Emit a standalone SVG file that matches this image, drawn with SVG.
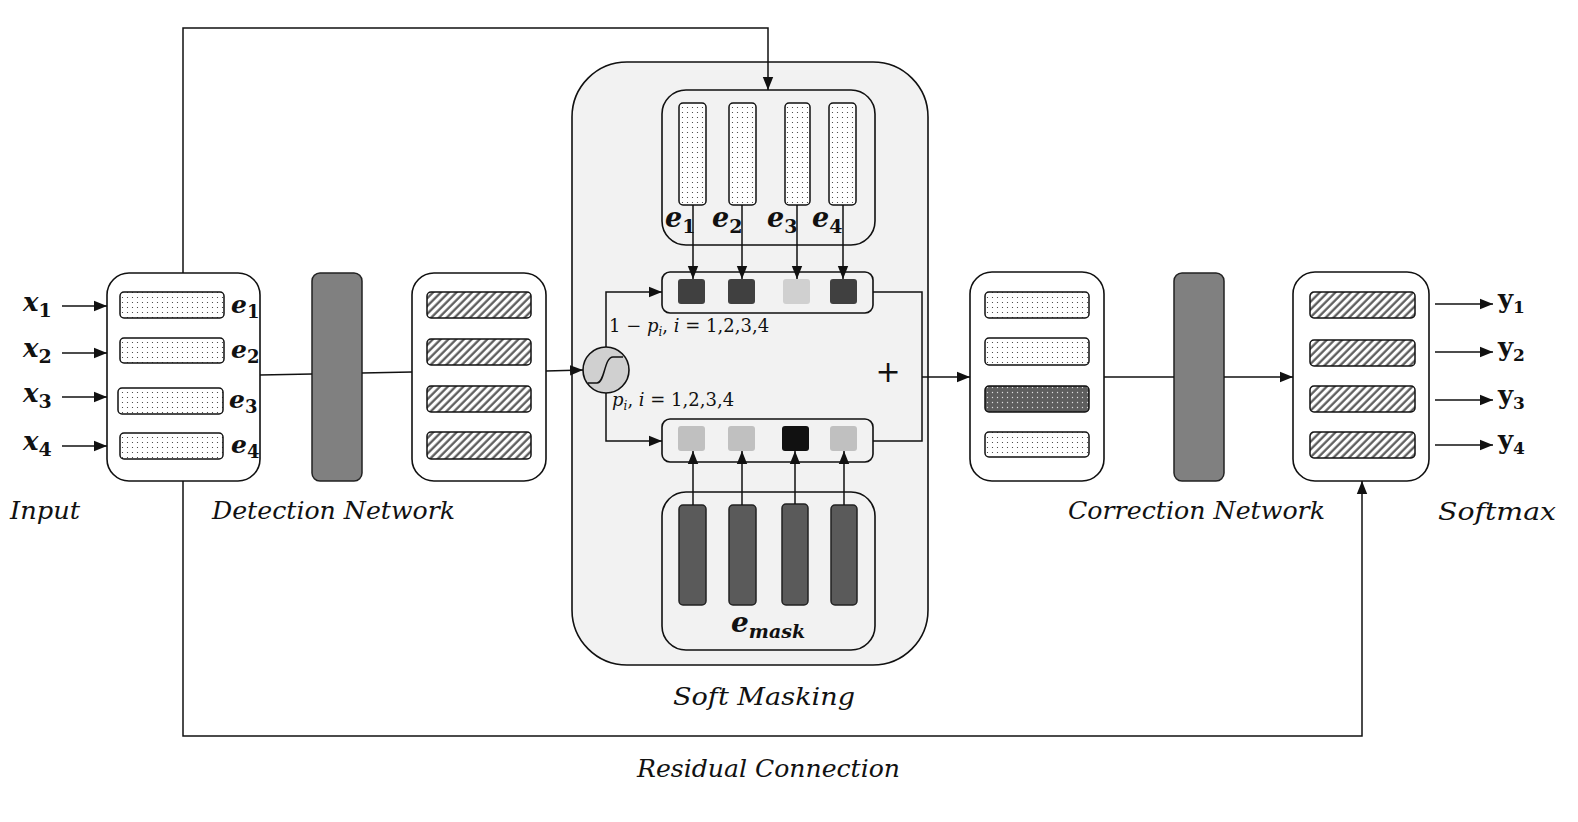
<svg xmlns="http://www.w3.org/2000/svg" width="1578" height="822" viewBox="0 0 1578 822">
<style>
.box{fill:#fff;stroke:#111;stroke-width:1.6}
.gbox{fill:#f2f2f2;stroke:#111;stroke-width:1.6}
.dot{fill:url(#dots);stroke:#111;stroke-width:1.5}
.ddot{fill:url(#ddots);stroke:#111;stroke-width:1.5}
.hat{fill:url(#hatch);stroke:#111;stroke-width:1.5}
.dbar{fill:#808080;stroke:#222;stroke-width:1.5}
.mbar{fill:#5a5a5a;stroke:#222;stroke-width:1.5}
.ln{fill:none;stroke:#111;stroke-width:1.5}
.ar{fill:none;stroke:#111;stroke-width:1.5;marker-end:url(#arr)}
.m{font-family:"DejaVu Serif",serif;font-style:italic;font-weight:bold;fill:#111}
.sub{font-style:normal}
.y{font-family:"DejaVu Serif",serif;font-weight:bold;fill:#111}
.lab{font-family:"DejaVu Serif",serif;font-style:italic;font-size:25px;fill:#111}
.f{font-family:"DejaVu Serif",serif;font-size:18px;fill:#111}
</style>
<defs>
<pattern id="dots" width="5" height="5" patternUnits="userSpaceOnUse"><rect width="5" height="5" fill="#fff"/><circle cx="2.5" cy="2.5" r="0.6" fill="#333"/></pattern>
<pattern id="ddots" width="5" height="5" patternUnits="userSpaceOnUse"><rect width="5" height="5" fill="#5e5e5e"/><circle cx="2.5" cy="2.5" r="0.7" fill="#ddd"/></pattern>
<pattern id="hatch" width="5.5" height="5.5" patternUnits="userSpaceOnUse" patternTransform="rotate(45)"><rect width="5.5" height="5.5" fill="#fff"/><line x1="1.5" y1="0" x2="1.5" y2="5.5" stroke="#555" stroke-width="2.2"/></pattern>
<marker id="arr" viewBox="0 0 10 10" refX="10" refY="5" markerWidth="13" markerHeight="13" markerUnits="userSpaceOnUse" orient="auto"><path d="M0,1 L10,5 L0,9 z" fill="#111"/></marker>
</defs>
<rect width="1578" height="822" fill="#fff"/>

<g id="input">
<rect class="box" x="107" y="273" width="153" height="208" rx="22"/>
<rect class="dot" x="120" y="292" width="104" height="26" rx="4"/>
<rect class="dot" x="120" y="338" width="104" height="25" rx="4"/>
<rect class="dot" x="118" y="388" width="105" height="26" rx="4"/>
<rect class="dot" x="120" y="433" width="103" height="26" rx="4"/>
<text class="m" x="231" y="313" font-size="25">e<tspan class="sub" font-size="18" dy="5">1</tspan></text>
<text class="m" x="231" y="358" font-size="25">e<tspan class="sub" font-size="18" dy="5">2</tspan></text>
<text class="m" x="229" y="408" font-size="25">e<tspan class="sub" font-size="18" dy="5">3</tspan></text>
<text class="m" x="231" y="453" font-size="25">e<tspan class="sub" font-size="18" dy="5">4</tspan></text>
<text class="m" x="23" y="311" font-size="26">x<tspan class="sub" font-size="19" dy="6">1</tspan></text>
<text class="m" x="23" y="357" font-size="26">x<tspan class="sub" font-size="19" dy="6">2</tspan></text>
<text class="m" x="23" y="402" font-size="26">x<tspan class="sub" font-size="19" dy="6">3</tspan></text>
<text class="m" x="23" y="450" font-size="26">x<tspan class="sub" font-size="19" dy="6">4</tspan></text>
<text class="lab" x="10" y="519" textLength="70" lengthAdjust="spacingAndGlyphs">Input</text>
</g>

<g id="detection">
<rect class="dbar" x="312" y="273" width="50" height="208" rx="8"/>
<rect class="box" x="412" y="273" width="134" height="208" rx="22"/>
<rect class="hat" x="427" y="292" width="104" height="26" rx="4"/>
<rect class="hat" x="427" y="339" width="104" height="26" rx="4"/>
<rect class="hat" x="427" y="386" width="104" height="26" rx="4"/>
<rect class="hat" x="427" y="432" width="104" height="27" rx="4"/>
<text class="lab" x="212" y="519" textLength="243" lengthAdjust="spacingAndGlyphs">Detection Network</text>
</g>

<g id="softmasking">
<rect class="gbox" x="572" y="62" width="356" height="603" rx="55"/>
<rect class="gbox" x="662" y="90" width="213" height="155" rx="24"/>
<rect class="dot" x="679" y="103" width="27" height="102" rx="4"/>
<rect class="dot" x="729" y="103" width="27" height="102" rx="4"/>
<rect class="dot" x="785" y="103" width="25" height="102" rx="4"/>
<rect class="dot" x="829" y="103" width="27" height="102" rx="4"/>
<text class="m" x="665" y="227" font-size="27">e<tspan class="sub" font-size="19" dy="6">1</tspan></text>
<text class="m" x="712" y="227" font-size="27">e<tspan class="sub" font-size="19" dy="6">2</tspan></text>
<text class="m" x="767" y="227" font-size="27">e<tspan class="sub" font-size="19" dy="6">3</tspan></text>
<text class="m" x="812" y="227" font-size="27">e<tspan class="sub" font-size="19" dy="6">4</tspan></text>
<rect class="gbox" x="662" y="272" width="211" height="41" rx="8"/>
<rect x="678" y="279" width="27" height="25" rx="3" fill="#404040"/>
<rect x="728" y="279" width="27" height="25" rx="3" fill="#404040"/>
<rect x="783" y="279" width="27" height="25" rx="3" fill="#d0d0d0"/>
<rect x="830" y="279" width="27" height="25" rx="3" fill="#404040"/>
<rect class="gbox" x="662" y="419" width="211" height="43" rx="8"/>
<rect x="678" y="426" width="27" height="25" rx="3" fill="#c0c0c0"/>
<rect x="728" y="426" width="27" height="25" rx="3" fill="#c0c0c0"/>
<rect x="782" y="426" width="27" height="25" rx="3" fill="#111"/>
<rect x="830" y="426" width="27" height="25" rx="3" fill="#c0c0c0"/>
<rect class="gbox" x="662" y="492" width="213" height="158" rx="24"/>
<rect class="mbar" x="679" y="505" width="27" height="100" rx="4"/>
<rect class="mbar" x="729" y="505" width="27" height="100" rx="4"/>
<rect class="mbar" x="782" y="504" width="26" height="101" rx="4"/>
<rect class="mbar" x="831" y="505" width="26" height="100" rx="4"/>
<text class="m" x="731" y="632" font-size="28">e<tspan font-size="19" dy="6">mask</tspan></text>
<circle cx="606" cy="370" r="23" fill="#d0d0d0" stroke="#111" stroke-width="1.6"/>
<path class="ln" d="M588,383 L597,383 C605,383 604,357 613,357 L623,357"/>
<text class="f" x="609" y="332">1 − <tspan font-style="italic">p</tspan><tspan font-style="italic" font-size="12" dy="4">i</tspan><tspan dy="-4">, </tspan><tspan font-style="italic">i</tspan> = 1,2,3,4</text>
<text class="f" x="612" y="406"><tspan font-style="italic">p</tspan><tspan font-style="italic" font-size="12" dy="4">i</tspan><tspan dy="-4">, </tspan><tspan font-style="italic">i</tspan> = 1,2,3,4</text>
<text x="888" y="382" font-family="DejaVu Sans,sans-serif" font-size="30" text-anchor="middle" fill="#111">+</text>
<text class="lab" x="673" y="705" textLength="182" lengthAdjust="spacingAndGlyphs">Soft Masking</text>
</g>

<g id="correction">
<rect class="box" x="970" y="272" width="134" height="209" rx="22"/>
<rect class="dot" x="985" y="292" width="104" height="26" rx="4"/>
<rect class="dot" x="985" y="338" width="104" height="27" rx="4"/>
<rect class="ddot" x="985" y="386" width="104" height="26" rx="4"/>
<rect class="dot" x="985" y="432" width="104" height="25" rx="4"/>
<rect class="dbar" x="1174" y="273" width="50" height="208" rx="8"/>
<text class="lab" x="1068" y="519" textLength="257" lengthAdjust="spacingAndGlyphs">Correction Network</text>
</g>

<g id="softmax">
<rect class="box" x="1293" y="272" width="136" height="209" rx="22"/>
<rect class="hat" x="1310" y="292" width="105" height="26" rx="4"/>
<rect class="hat" x="1310" y="340" width="105" height="26" rx="4"/>
<rect class="hat" x="1310" y="386" width="105" height="26" rx="4"/>
<rect class="hat" x="1310" y="432" width="105" height="26" rx="4"/>
<text class="y" x="1498" y="308" font-size="26">y<tspan font-size="17" dy="5">1</tspan></text>
<text class="y" x="1498" y="356" font-size="26">y<tspan font-size="17" dy="5">2</tspan></text>
<text class="y" x="1498" y="404" font-size="26">y<tspan font-size="17" dy="5">3</tspan></text>
<text class="y" x="1498" y="449" font-size="26">y<tspan font-size="17" dy="5">4</tspan></text>
<text class="lab" x="1438" y="520" textLength="118" lengthAdjust="spacingAndGlyphs">Softmax</text>
</g>

<g id="residual">
<text class="lab" x="637" y="777" textLength="263" lengthAdjust="spacingAndGlyphs">Residual Connection</text>
</g>

<g id="connectors">
<polyline class="ar" points="183,273 183,28 768,28 768,90"/>
<polyline class="ar" points="183,481 183,736 1362,736 1362,481"/>
<line class="ar" x1="62" y1="306" x2="107" y2="306"/>
<line class="ar" x1="62" y1="353" x2="107" y2="353"/>
<line class="ar" x1="62" y1="397" x2="107" y2="397"/>
<line class="ar" x1="62" y1="446" x2="107" y2="446"/>
<line class="ln" x1="260" y1="375" x2="312" y2="374"/>
<line class="ln" x1="362" y1="373" x2="412" y2="372"/>
<line class="ar" x1="546" y1="371" x2="583" y2="370"/>
<polyline class="ar" points="606,347 606,292 662,292"/>
<polyline class="ar" points="606,393 606,441 662,441"/>
<line class="ar" x1="693" y1="205" x2="693" y2="279"/>
<line class="ar" x1="742" y1="205" x2="742" y2="279"/>
<line class="ar" x1="797" y1="205" x2="797" y2="279"/>
<line class="ar" x1="843" y1="205" x2="843" y2="279"/>
<line class="ar" x1="693" y1="505" x2="693" y2="451"/>
<line class="ar" x1="742" y1="505" x2="742" y2="451"/>
<line class="ar" x1="795" y1="504" x2="795" y2="451"/>
<line class="ar" x1="844" y1="505" x2="844" y2="451"/>
<polyline class="ln" points="873,292 922,292 922,441 873,441"/>
<line class="ar" x1="922" y1="377" x2="970" y2="377"/>
<line class="ln" x1="1104" y1="377" x2="1174" y2="377"/>
<line class="ar" x1="1224" y1="377" x2="1293" y2="377"/>
<line class="ar" x1="1435" y1="304" x2="1493" y2="304"/>
<line class="ar" x1="1435" y1="352" x2="1493" y2="352"/>
<line class="ar" x1="1435" y1="400" x2="1493" y2="400"/>
<line class="ar" x1="1435" y1="445" x2="1493" y2="445"/>
</g>
</svg>
